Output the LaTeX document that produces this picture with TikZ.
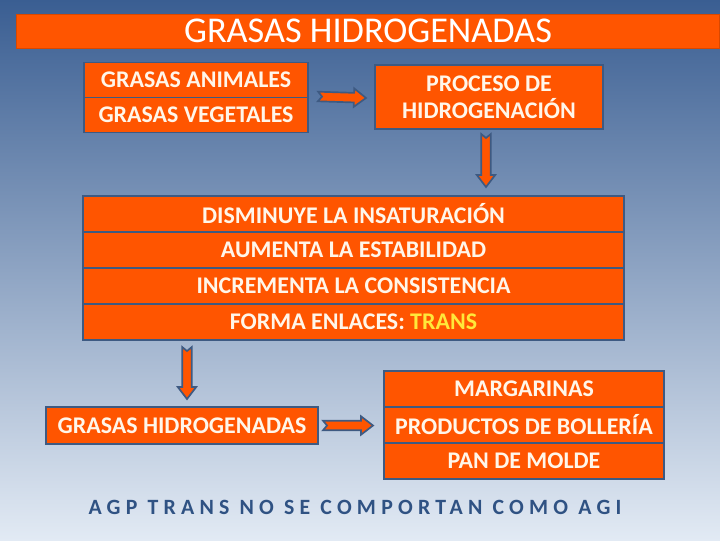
\documentclass[tikz,border=0pt]{standalone}
\usepackage{fontspec}
\setmainfont{Carlito}
\usetikzlibrary{calc}
\definecolor{naranja}{HTML}{FF5500}
\definecolor{borde}{HTML}{3E5A82}
\definecolor{fondoarriba}{HTML}{3A5E92}
\definecolor{fondoabajo}{HTML}{E2EAF4}
\definecolor{letra}{HTML}{FFF6EA}
\definecolor{amarillo}{HTML}{FFE83A}
\definecolor{azultexto}{HTML}{2F5283}

\tikzset{
  caja/.style={draw=borde, line width=1.4pt, fill=naranja, text=letra,
    font=\bfseries\fontsize{17}{19.5}\selectfont, inner sep=0pt, minimum height=0.875cm},
  titulo/.style={fill=naranja, draw=naranja!85!black, line width=0.6pt, text=white,
    font=\fontsize{25.8}{28}\selectfont, minimum width=17.55cm, minimum height=0.85cm},
  lema/.style={text=azultexto, font=\bfseries\fontsize{15.5}{17}\selectfont\addfontfeature{LetterSpace=24}},
  flechabloque/.style={draw=borde, line width=1.2pt, fill=naranja, line join=miter},
}
% notched block arrow from #1 to #2
\newcommand{\flechamuesca}[2]{%
  \coordinate (fA) at (#1);
  \coordinate (fB) at (#2);
  \coordinate (fH) at ($(fB)!0.3cm!(fA)$);
  \draw[flechabloque] ($(fA)!0.1cm!(fB)$) -- ($(fA)!0.12cm!90:(fB)$)
    -- ($(fH)!0.12cm!90:(fB)$) -- ($(fH)!0.23cm!90:(fB)$) -- (fB)
    -- ($(fH)!0.23cm!-90:(fB)$) -- ($(fH)!0.12cm!-90:(fB)$)
    -- ($(fA)!0.12cm!-90:(fB)$) -- cycle;
}

\begin{document}
\begin{tikzpicture}[x=0.025cm,y=-0.025cm]
\useasboundingbox (0,0) rectangle (720,540);
\shade[top color=fondoarriba, bottom color=fondoabajo] (0,0) rectangle (720,540);

% title
\node[titulo] (titulo) at (368,31) {GRASAS HIDROGENADAS};

% sources and process
\node[caja, minimum width=5.6cm] (animales) at (196,80) {GRASAS ANIMALES};
\node[caja, minimum width=5.6cm] (vegetales) at (196,115) {GRASAS VEGETALES};
\node[caja, minimum width=5.7cm, minimum height=1.6cm, align=center] (proceso) at (489,97) {PROCESO DE\\HIDROGENACIÓN};

% effects
\node[caja, minimum width=13.525cm, minimum height=0.9cm] (d1) at (353.5,214) {DISMINUYE LA INSATURACIÓN};
\node[caja, minimum width=13.525cm, minimum height=0.9cm] (d2) at (353.5,250) {AUMENTA LA ESTABILIDAD};
\node[caja, minimum width=13.525cm, minimum height=0.9cm] (d3) at (353.5,286) {INCREMENTA LA CONSISTENCIA};
\node[caja, minimum width=13.525cm, minimum height=0.9cm] (d4) at (353.5,322) {FORMA ENLACES: \textcolor{amarillo}{TRANS}};

% products
\node[caja, minimum width=6.8cm, minimum height=0.925cm] (grasas) at (182,425.5) {GRASAS HIDROGENADAS};
\node[caja, minimum width=7cm, minimum height=0.9cm] (m1) at (524,389) {MARGARINAS};
\node[caja, minimum width=7cm, minimum height=0.9cm] (m2) at (524,425) {PRODUCTOS DE BOLLERÍA};
\node[caja, minimum width=7cm, minimum height=0.9cm] (m3) at (524,461) {PAN DE MOLDE};

\node[lema] (lema) at (355,507) {AGP TRANS NO SE COMPORTAN COMO AGI};

% arrows
\flechamuesca{$(vegetales.north east)+(9,0)$}{$(proceso.west)+(-8,1)$}
\flechamuesca{$(proceso.south)+(-3,4)$}{$(proceso.south)+(-3,57)$}
\flechamuesca{$(grasas.north)+(5,-59)$}{$(grasas.north)+(5,-7)$}
\flechamuesca{$(grasas.east)+(4,0)$}{$(grasas.east)+(54,0)$}
\end{tikzpicture}
\end{document}
